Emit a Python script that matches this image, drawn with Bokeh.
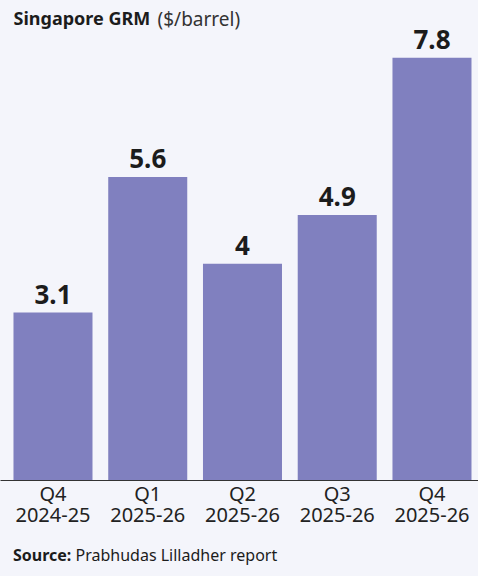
from bokeh.plotting import figure
from bokeh.models import Range1d, Label, FixedTicker, ColumnDataSource, LinearAxis, Div
from bokeh.layouts import column
from bokeh.core.properties import value
from bokeh.embed import file_html
from bokeh.resources import INLINE

quarters = ["Q4", "Q1", "Q2", "Q3", "Q4"]
years = ["2024-25", "2025-26", "2025-26", "2025-26", "2025-26"]
grm = [3.1, 5.6, 4.0, 4.9, 7.8]
grm_labels = ["3.1", "5.6", "4", "4.9", "7.8"]

BG = "#f4f5fb"
BAR = "#8080bf"
INK = "#1c1c1c"
FONT = "Noto Sans"

xs = list(range(len(quarters)))
src = ColumnDataSource(dict(x=xs, top=grm, lab=grm_labels))

p = figure(width=478, height=544, output_backend="svg", toolbar_location=None,
           x_range=Range1d(-0.554, 4.491), y_range=Range1d(0, 8.856),
           background_fill_color=BG, border_fill_color=BG, x_axis_location=None,
           min_border_left=0, min_border_right=0, min_border_top=0, min_border_bottom=64)
p.outline_line_color = None
p.grid.visible = False
p.yaxis.visible = False

p.vbar(x="x", top="top", width=0.834, bottom=0, source=src, color=BAR, line_color=None)
p.text(x="x", y="top", text="lab", source=src, text_align="center", text_baseline="alphabetic",
       y_offset=-18, text_font=value(FONT), text_font_style="bold", text_font_size="26px",
       text_color=INK)

def make_axis(labels, line=True, standoff=0):
    ax = LinearAxis(ticker=FixedTicker(ticks=xs),
                    major_label_overrides={i: t for i, t in zip(xs, labels)})
    ax.major_tick_line_color = None
    ax.minor_tick_line_color = None
    ax.axis_line_color = "#333333" if line else None
    ax.axis_line_width = 1.2
    ax.major_label_text_font = FONT
    ax.major_label_text_font_size = "20px"
    ax.major_label_text_color = "#222222"
    ax.major_label_standoff = standoff
    return ax

p.add_layout(make_axis(quarters, True, -7), "below")
p.add_layout(make_axis(years, False, -8), "below")

p.add_layout(Label(x=13, y=475, x_units="screen", y_units="screen", text="Singapore GRM",
                   text_font=FONT, text_font_style="bold", text_font_size="18px",
                   text_color=INK, text_baseline="top"))
p.add_layout(Label(x=157, y=475, x_units="screen", y_units="screen", text="($/barrel)",
                   text_font=FONT, text_font_size="19px",
                   text_color="#333333", text_baseline="top"))

src_div = Div(text='<b>Source:</b> Prabhudas Lilladher report', width=478, height=32, margin=0,
              styles={"font-family": FONT, "font-size": "16px", "color": INK,
                      "line-height": "20px", "padding-top": "1px", "padding-left": "13px",
                      "box-sizing": "border-box", "background": BG})

layout = column(p, src_div, spacing=0)
html = file_html(layout, INLINE)
html = html.replace("<head>", "<head><style>html,body{background:%s;}</style>" % BG, 1)
open("out.html", "w").write(html)
